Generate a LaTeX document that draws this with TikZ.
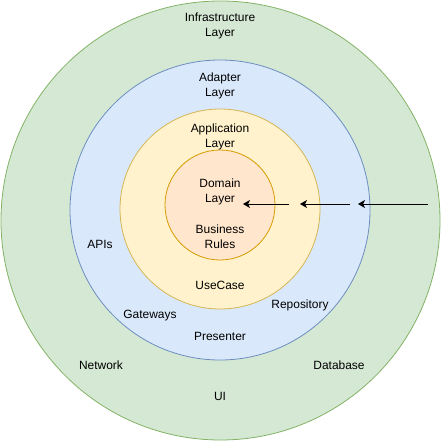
\documentclass[tikz,border=0pt]{standalone}
\usepackage{fontspec}
\setmainfont{Liberation Sans}
\usetikzlibrary{positioning, arrows.meta}
\definecolor{infrafill}{HTML}{D5E8D4}
\definecolor{infraline}{HTML}{82B366}
\definecolor{adapterfill}{HTML}{DAE8FC}
\definecolor{adapterline}{HTML}{6C8EBF}
\definecolor{appfill}{HTML}{FFF2CC}
\definecolor{appline}{HTML}{D6B656}
\definecolor{domainfill}{HTML}{FFE6CC}
\definecolor{domainline}{HTML}{D79B00}
\begin{document}
\begin{tikzpicture}[>={Stealth[length=7bp, width=8bp, inset=2bp]}, x=1bp, y=-1bp,
	layer/.style={draw, circle, inner sep=0pt, line width=0.8bp},
	lbl/.style={align=center, inner sep=0pt, font=\fontsize{12}{15}\selectfont}]
		\useasboundingbox (0, 0) rectangle (441, 441);
		% the four layers
		\node[layer, minimum size=439bp, fill=infrafill, draw=infraline] (infra) at (220.5, 220.5) {};
		\node[layer, minimum size=300bp, fill=adapterfill, draw=adapterline] (adapter) at (220, 210) {};
		\node[layer, minimum size=200bp, fill=appfill, draw=appline] (app) at (220, 209) {};
		\node[layer, minimum size=110bp, fill=domainfill, draw=domainline] (domain) at (220, 205) {};
		% labels
		\node[lbl] (infratitle) at (220, 25.5) {Infrastructure\\Layer};
		\node[lbl] (adaptertitle) at (220, 86) {Adapter\\Layer};
		\node[lbl] (apptitle) at (220, 136.5) {Application\\Layer};
		\node[lbl] (domaintitle) at (220, 191.5) {Domain\\Layer};
		\node[lbl] (rules) at (220, 237) {Business\\Rules};
		\node[lbl] (usecase) at (220, 285.5) {UseCase};
		\node[lbl] (apis) at (100, 244.5) {APIs};
		\node[lbl] (gateways) at (150, 315.5) {Gateways};
		\node[lbl] (presenter) at (220, 336) {Presenter};
		\node[lbl] (repository) at (300, 305.5) {Repository};
		\node[lbl] (network) at (101, 365.5) {Network};
		\node[lbl] (database) at (339, 365.5) {Database};
		\node[lbl] (ui) at (220, 396) {UI};
		% dependency arrows
		\coordinate (a1s) at (289, 204);
		\coordinate (a1e) at (243, 204);
		\coordinate (a2s) at (350, 204);
		\coordinate (a2e) at (300, 204);
		\coordinate (a3s) at (428, 204);
		\coordinate (a3e) at (358, 204);
		\draw [->, line width=0.8bp] (a1s) -- (a1e);
		\draw [->, line width=0.8bp] (a2s) -- (a2e);
		\draw [->, line width=0.8bp] (a3s) -- (a3e);
	\end{tikzpicture}
\end{document}
